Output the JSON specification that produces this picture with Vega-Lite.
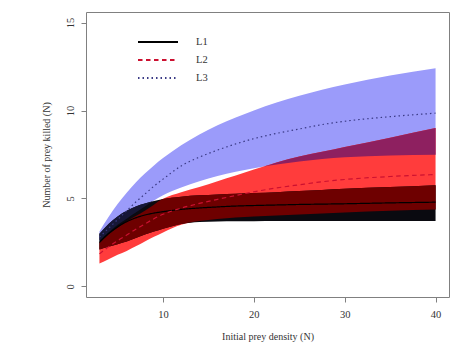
{
  "$schema": "https://vega.github.io/schema/vega-lite/v6.json",
  "width": 363,
  "height": 285,
  "autosize": {"type": "none"},
  "padding": {"left": 86, "top": 12, "right": 25, "bottom": 53},
  "background": "white",
  "config": {
    "view": {"stroke": "#808080", "strokeWidth": 1},
    "font": "Liberation Serif",
    "axis": {"grid": false, "domain": false, "tickColor": "#808080", "tickSize": 5, "labelFont": "Liberation Serif", "labelFontSize": 10.5, "labelColor": "#333333", "titleFont": "Liberation Serif", "titleFontSize": 10, "titleFontWeight": "normal", "titleColor": "#333333"},
    "legend": {"labelFont": "Liberation Serif", "labelFontSize": 10.5, "labelColor": "#333333"}
  },
  "datasets": {
    "curves": [
      {"series": "L1", "x": 3, "lo": 2.1, "mid": 2.5, "hi": 3.0},
      {"series": "L1", "x": 4, "lo": 2.25, "mid": 3.0, "hi": 3.55},
      {"series": "L1", "x": 5, "lo": 2.4, "mid": 3.38, "hi": 3.98},
      {"series": "L1", "x": 6, "lo": 2.55, "mid": 3.68, "hi": 4.3},
      {"series": "L1", "x": 7, "lo": 2.75, "mid": 3.9, "hi": 4.55},
      {"series": "L1", "x": 8, "lo": 2.95, "mid": 4.06, "hi": 4.72},
      {"series": "L1", "x": 9, "lo": 3.12, "mid": 4.17, "hi": 4.86},
      {"series": "L1", "x": 10, "lo": 3.28, "mid": 4.25, "hi": 4.97},
      {"series": "L1", "x": 12, "lo": 3.55, "mid": 4.38, "hi": 5.1},
      {"series": "L1", "x": 14, "lo": 3.66, "mid": 4.46, "hi": 5.18},
      {"series": "L1", "x": 16, "lo": 3.69, "mid": 4.52, "hi": 5.23},
      {"series": "L1", "x": 18, "lo": 3.7, "mid": 4.57, "hi": 5.27},
      {"series": "L1", "x": 20, "lo": 3.71, "mid": 4.6, "hi": 5.31},
      {"series": "L1", "x": 22.5, "lo": 3.72, "mid": 4.63, "hi": 5.36},
      {"series": "L1", "x": 25, "lo": 3.72, "mid": 4.66, "hi": 5.42},
      {"series": "L1", "x": 27.5, "lo": 3.72, "mid": 4.68, "hi": 5.48},
      {"series": "L1", "x": 30, "lo": 3.72, "mid": 4.7, "hi": 5.55},
      {"series": "L1", "x": 35, "lo": 3.72, "mid": 4.75, "hi": 5.65},
      {"series": "L1", "x": 40, "lo": 3.72, "mid": 4.79, "hi": 5.75},
      {"series": "L2", "x": 3, "lo": 1.3, "mid": 1.85, "hi": 2.5},
      {"series": "L2", "x": 4, "lo": 1.55, "mid": 2.25, "hi": 2.95},
      {"series": "L2", "x": 5, "lo": 1.8, "mid": 2.6, "hi": 3.35},
      {"series": "L2", "x": 6, "lo": 2.02, "mid": 2.92, "hi": 3.7},
      {"series": "L2", "x": 7, "lo": 2.28, "mid": 3.25, "hi": 4.0},
      {"series": "L2", "x": 8, "lo": 2.55, "mid": 3.55, "hi": 4.3},
      {"series": "L2", "x": 9, "lo": 2.82, "mid": 3.85, "hi": 4.65},
      {"series": "L2", "x": 10, "lo": 3.07, "mid": 4.1, "hi": 4.98},
      {"series": "L2", "x": 12, "lo": 3.5, "mid": 4.45, "hi": 5.35},
      {"series": "L2", "x": 14, "lo": 3.72, "mid": 4.72, "hi": 5.65},
      {"series": "L2", "x": 16, "lo": 3.84, "mid": 4.95, "hi": 5.98},
      {"series": "L2", "x": 18, "lo": 3.92, "mid": 5.17, "hi": 6.3},
      {"series": "L2", "x": 20, "lo": 3.97, "mid": 5.38, "hi": 6.65},
      {"series": "L2", "x": 22.5, "lo": 4.03, "mid": 5.6, "hi": 7.05},
      {"series": "L2", "x": 25, "lo": 4.09, "mid": 5.78, "hi": 7.39},
      {"series": "L2", "x": 27.5, "lo": 4.15, "mid": 5.95, "hi": 7.65},
      {"series": "L2", "x": 30, "lo": 4.2, "mid": 6.08, "hi": 7.92},
      {"series": "L2", "x": 35, "lo": 4.3, "mid": 6.25, "hi": 8.45},
      {"series": "L2", "x": 40, "lo": 4.375, "mid": 6.36, "hi": 9.0},
      {"series": "L3", "x": 3, "lo": 2.6, "mid": 2.8, "hi": 3.13},
      {"series": "L3", "x": 4, "lo": 3.07, "mid": 3.3, "hi": 3.95},
      {"series": "L3", "x": 5, "lo": 3.5, "mid": 3.8, "hi": 4.68},
      {"series": "L3", "x": 6, "lo": 3.85, "mid": 4.3, "hi": 5.33},
      {"series": "L3", "x": 7, "lo": 4.2, "mid": 4.8, "hi": 5.91},
      {"series": "L3", "x": 8, "lo": 4.55, "mid": 5.25, "hi": 6.42},
      {"series": "L3", "x": 9, "lo": 4.88, "mid": 5.7, "hi": 6.88},
      {"series": "L3", "x": 10, "lo": 5.18, "mid": 6.1, "hi": 7.3},
      {"series": "L3", "x": 12, "lo": 5.62, "mid": 6.85, "hi": 8.03},
      {"series": "L3", "x": 14, "lo": 5.98, "mid": 7.35, "hi": 8.64},
      {"series": "L3", "x": 16, "lo": 6.28, "mid": 7.75, "hi": 9.16},
      {"series": "L3", "x": 18, "lo": 6.52, "mid": 8.1, "hi": 9.6},
      {"series": "L3", "x": 20, "lo": 6.72, "mid": 8.4, "hi": 10.0},
      {"series": "L3", "x": 22.5, "lo": 6.93, "mid": 8.7, "hi": 10.45},
      {"series": "L3", "x": 25, "lo": 7.1, "mid": 8.95, "hi": 10.84},
      {"series": "L3", "x": 27.5, "lo": 7.24, "mid": 9.2, "hi": 11.18},
      {"series": "L3", "x": 30, "lo": 7.34, "mid": 9.39, "hi": 11.48},
      {"series": "L3", "x": 35, "lo": 7.44, "mid": 9.65, "hi": 11.99},
      {"series": "L3", "x": 40, "lo": 7.48, "mid": 9.85, "hi": 12.4}
    ],
    "overlaps": [
      {"pair": "L2L3", "x": 21, "lo": 6.8, "hi": 6.8},
      {"pair": "L2L3", "x": 22.5, "lo": 6.93, "hi": 7.05},
      {"pair": "L2L3", "x": 25, "lo": 7.1, "hi": 7.39},
      {"pair": "L2L3", "x": 27.5, "lo": 7.24, "hi": 7.65},
      {"pair": "L2L3", "x": 30, "lo": 7.34, "hi": 7.92},
      {"pair": "L2L3", "x": 35, "lo": 7.44, "hi": 8.45},
      {"pair": "L2L3", "x": 40, "lo": 7.48, "hi": 9.0},
      {"pair": "L1L2", "x": 3, "lo": 2.1, "hi": 2.5},
      {"pair": "L1L2", "x": 4, "lo": 2.25, "hi": 2.95},
      {"pair": "L1L2", "x": 5, "lo": 2.4, "hi": 3.35},
      {"pair": "L1L2", "x": 6, "lo": 2.55, "hi": 3.7},
      {"pair": "L1L2", "x": 7, "lo": 2.75, "hi": 4.0},
      {"pair": "L1L2", "x": 8, "lo": 2.95, "hi": 4.3},
      {"pair": "L1L2", "x": 9, "lo": 3.12, "hi": 4.65},
      {"pair": "L1L2", "x": 10, "lo": 3.28, "hi": 4.97},
      {"pair": "L1L2", "x": 12, "lo": 3.55, "hi": 5.1},
      {"pair": "L1L2", "x": 14, "lo": 3.72, "hi": 5.18},
      {"pair": "L1L2", "x": 16, "lo": 3.84, "hi": 5.23},
      {"pair": "L1L2", "x": 18, "lo": 3.92, "hi": 5.27},
      {"pair": "L1L2", "x": 20, "lo": 3.97, "hi": 5.31},
      {"pair": "L1L2", "x": 22.5, "lo": 4.03, "hi": 5.36},
      {"pair": "L1L2", "x": 25, "lo": 4.09, "hi": 5.42},
      {"pair": "L1L2", "x": 27.5, "lo": 4.15, "hi": 5.48},
      {"pair": "L1L2", "x": 30, "lo": 4.2, "hi": 5.55},
      {"pair": "L1L2", "x": 35, "lo": 4.3, "hi": 5.65},
      {"pair": "L1L2", "x": 40, "lo": 4.375, "hi": 5.75},
      {"pair": "L1L3", "x": 3, "lo": 2.6, "hi": 3.0},
      {"pair": "L1L3", "x": 4, "lo": 3.07, "hi": 3.55},
      {"pair": "L1L3", "x": 5, "lo": 3.5, "hi": 3.98},
      {"pair": "L1L3", "x": 6, "lo": 3.85, "hi": 4.3},
      {"pair": "L1L3", "x": 7, "lo": 4.2, "hi": 4.55},
      {"pair": "L1L3", "x": 8, "lo": 4.55, "hi": 4.72},
      {"pair": "L1L3", "x": 8.9, "lo": 4.84, "hi": 4.84}
    ]
  },
  "layer": [
    {
      "data": {"name": "curves"},
      "transform": [{"filter": "datum.series === 'L3'"}],
      "mark": {"type": "area", "color": "#9B9BFA", "interpolate": "monotone", "opacity": 1},
      "encoding": {
        "x": {"field": "x", "type": "quantitative", "scale": {"domain": [1.52, 41.48], "nice": false, "zero": false},
          "axis": {"values": [10, 20, 30, 40], "title": "Initial prey density (N)", "labelPadding": 7, "titlePadding": 12}},
        "y": {"field": "lo", "type": "quantitative", "scale": {"domain": [-0.6, 15.6], "nice": false, "zero": false},
          "axis": {"values": [0, 5, 10, 15], "labelAngle": -90, "labelAlign": "center", "labelBaseline": "bottom", "labelPadding": 6, "title": "Number of prey killed (N)", "titlePadding": 14}},
        "y2": {"field": "hi"}
      }
    },
    {
      "data": {"name": "curves"},
      "transform": [{"filter": "datum.series === 'L2'"}],
      "mark": {"type": "area", "color": "#FF3C3C", "interpolate": "monotone", "opacity": 1},
      "encoding": {"x": {"field": "x", "type": "quantitative"}, "y": {"field": "lo", "type": "quantitative"}, "y2": {"field": "hi"}}
    },
    {
      "data": {"name": "overlaps"},
      "transform": [{"filter": "datum.pair === 'L2L3'"}],
      "mark": {"type": "area", "color": "#8E2060", "interpolate": "monotone", "opacity": 1},
      "encoding": {"x": {"field": "x", "type": "quantitative"}, "y": {"field": "lo", "type": "quantitative"}, "y2": {"field": "hi"}}
    },
    {
      "data": {"name": "curves"},
      "transform": [{"filter": "datum.series === 'L1'"}],
      "mark": {"type": "area", "color": "#0A0A10", "interpolate": "monotone", "opacity": 1},
      "encoding": {"x": {"field": "x", "type": "quantitative"}, "y": {"field": "lo", "type": "quantitative"}, "y2": {"field": "hi"}}
    },
    {
      "data": {"name": "overlaps"},
      "transform": [{"filter": "datum.pair === 'L1L2'"}],
      "mark": {"type": "area", "color": "#6E0000", "interpolate": "monotone", "opacity": 1},
      "encoding": {"x": {"field": "x", "type": "quantitative"}, "y": {"field": "lo", "type": "quantitative"}, "y2": {"field": "hi"}}
    },
    {
      "data": {"name": "overlaps"},
      "transform": [{"filter": "datum.pair === 'L1L3'"}],
      "mark": {"type": "area", "color": "#161636", "interpolate": "monotone", "opacity": 1},
      "encoding": {"x": {"field": "x", "type": "quantitative"}, "y": {"field": "lo", "type": "quantitative"}, "y2": {"field": "hi"}}
    },
    {
      "data": {"name": "curves"},
      "mark": {"type": "line", "interpolate": "monotone", "strokeWidth": 1.2},
      "encoding": {
        "x": {"field": "x", "type": "quantitative"},
        "y": {"field": "mid", "type": "quantitative"},
        "color": {"field": "series", "type": "nominal",
          "scale": {"domain": ["L1", "L2", "L3"], "range": ["#000000", "#CC1030", "#3A3A85"]},
          "legend": {"title": null, "orient": "none", "legendX": 61, "legendY": 19, "symbolType": "M-2,0H2", "symbolSize": 400, "symbolStrokeWidth": 2, "labelOffset": 27, "rowPadding": 1, "padding": 0}},
        "strokeDash": {"field": "series", "type": "nominal",
          "scale": {"domain": ["L1", "L2", "L3"], "range": [[1, 0], [4.5, 3.5], [1.5, 3]]},
          "legend": {"title": null, "orient": "none", "legendX": 61, "legendY": 19, "symbolType": "M-2,0H2", "symbolSize": 400, "symbolStrokeWidth": 2, "labelOffset": 27, "rowPadding": 1, "padding": 0}}
      }
    }
  ]
}
